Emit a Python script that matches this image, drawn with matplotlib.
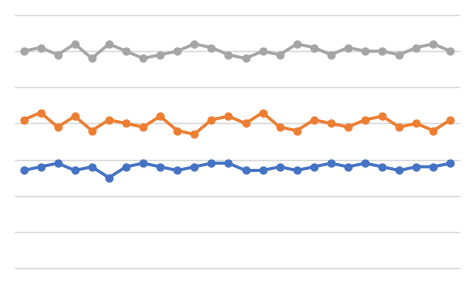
import matplotlib
matplotlib.use("Agg")
import matplotlib.pyplot as plt
import numpy as np

categories = list(range(1, 27))
series_gray = [60, 61, 59, 62, 58, 62, 60, 58, 59, 60, 62, 61, 59, 58, 60, 59, 62, 61, 59, 61, 60, 60, 59, 61, 62, 60]
series_orange = [41, 43, 39, 42, 38, 41, 40, 39, 42, 38, 37, 41, 42, 40, 43, 39, 38, 41, 40, 39, 41, 42, 39, 40, 38, 41]
series_blue = [27, 28, 29, 27, 28, 25, 28, 29, 28, 27, 28, 29, 29, 27, 27, 28, 27, 28, 29, 28, 29, 28, 27, 28, 28, 29]
y_ticks = [0, 10, 20, 30, 40, 50, 60, 70]

fig = plt.figure(figsize=(4.74, 2.84), dpi=100)
ax = fig.add_axes([15 / 474, 1 - 268 / 284, 444 / 474, 253 / 284])

x = np.arange(len(categories))
for vals, col in [(series_blue, "#4472C4"), (series_orange, "#ED7D31"), (series_gray, "#A5A5A5")]:
    ax.plot(x, vals, color=col, lw=2.2, marker="o", ms=5, zorder=3, solid_capstyle="round")

ax.set_xlim(-0.5, len(categories) - 0.5)
ax.set_ylim(0, 70)
ax.set_yticks(y_ticks)
ax.yaxis.grid(True, color="#D9D9D9", lw=1)
for gl in ax.get_ygridlines():
    gl.set_clip_on(False)
ax.set_axisbelow(True)
for s in ax.spines.values():
    s.set_visible(False)
ax.tick_params(left=False, bottom=False, labelleft=False, labelbottom=False)

fig.savefig("out.png", dpi=100)
